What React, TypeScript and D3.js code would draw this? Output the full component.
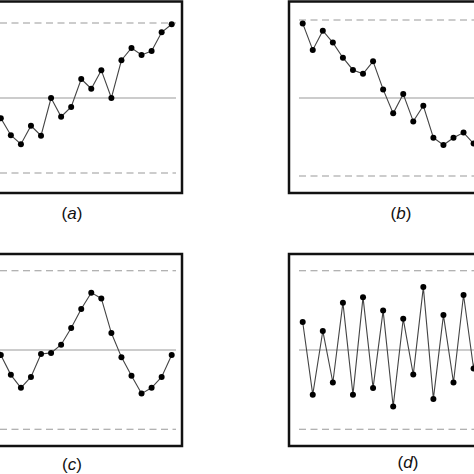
import * as d3 from "d3";

// control chart values, in sigma units (limits at ±3)
const seriesA = [-0.2, -0.55, -0.81, -1.49, -1.85, -1.11, -1.51, 0, -0.75, -0.36, 0.76, 0.37, 1.11, 0, 1.51, 2.0, 1.72, 1.88, 2.63, 2.95];
const seriesB = [2.87, 1.85, 2.59, 2.13, 1.55, 1.08, 0.93, 1.41, 0.33, -0.59, 0.15, -0.9, -0.3, -1.53, -1.81, -1.53, -1.33, -1.75, -1.6, -2.1];
const seriesC = [1.5, 0.95, -0.19, -0.94, -1.43, -1.02, -0.15, -0.11, 0.2, 0.83, 1.55, 2.17, 1.95, 0.64, -0.27, -0.97, -1.65, -1.43, -1.02, -0.19];
const seriesD = [1.06, -1.69, 0.72, -1.23, 1.79, -1.69, 2.0, -1.44, 1.49, -2.14, 1.18, -0.93, 2.38, -1.85, 1.32, -1.23, 2.08, -0.7, 1.9, -1.5];
const panelLabels = ["a", "b", "c", "d"];
const limits = [-3, 0, 3];

const W = 474;
const H = 474;
const boxW = 215;

// panel layout (box left, box top/bottom, y of upper and lower limits, label position)
const layout = [
  {data: seriesA, left: -33, top: 1.5, bottom: 193, ucl: 23, lcl: 173, lx: 72, ly: 219},
  {data: seriesB, left: 289, top: 1.5, bottom: 193, ucl: 20, lcl: 176, lx: 401, ly: 219},
  {data: seriesC, left: -33, top: 254, bottom: 446, ucl: 270.7, lcl: 429.3, lx: 72, ly: 470},
  {data: seriesD, left: 289, top: 254, bottom: 446, ucl: 270.7, lcl: 429.3, lx: 408, ly: 468},
];

const Panel = ({p, label}: {p: typeof layout[number]; label: string}) => {
  const x = d3.scaleLinear()
    .domain([0, p.data.length - 1])
    .range([p.left + 13.7, p.left + boxW - 10.3]);
  const y = d3.scaleLinear().domain([-3, 3]).range([p.lcl, p.ucl]);
  const line = d3.line<number>()
    .x((_, i) => x(i))
    .y(d => y(d));
  const x1 = p.left + 10;
  const x2 = p.left + boxW - 6;
  return (
    <g>
      <rect x={p.left} y={p.top} width={boxW} height={p.bottom - p.top}
            fill="white" stroke="#111" strokeWidth={2.5}/>
      {limits.map(l => (
        <line key={l} x1={x1} x2={x2} y1={y(l)} y2={y(l)}
              stroke="#999" strokeWidth={1.1}
              strokeDasharray={l === 0 ? undefined : "7,4.5"}/>
      ))}
      <path d={line(p.data) ?? ""} fill="none" stroke="#444" strokeWidth={1.1}/>
      {p.data.map((d, i) => (
        <circle key={i} cx={x(i)} cy={y(d)} r={3} fill="#000"/>
      ))}
      <text x={p.lx} y={p.ly} textAnchor="middle" fontFamily="'Liberation Sans', Arial, sans-serif"
            fontSize={17} fill="#111">
        (<tspan fontStyle="italic">{label}</tspan>)
      </text>
    </g>
  );
};

const App = () => {
  return (
    <svg width={W} height={H} style={{position: "absolute", left: 0, top: 0, background: "white"}}>
      {layout.map((p, i) => <Panel key={i} p={p} label={panelLabels[i]}/>)}
    </svg>
  );
};

export default App;
